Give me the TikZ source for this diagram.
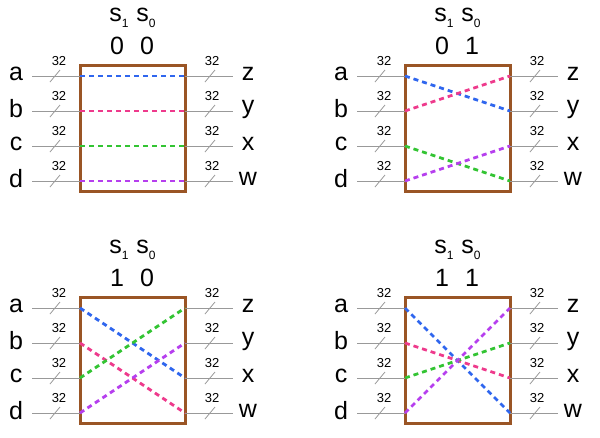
\documentclass[tikz,border=0pt]{standalone}
\usepackage{fontspec}
\setmainfont{Liberation Sans}
\definecolor{cbox}{HTML}{9A5525}
\definecolor{cA}{HTML}{2F66EE}
\definecolor{cB}{HTML}{EE3A8C}
\definecolor{cC}{HTML}{33C433}
\definecolor{cD}{HTML}{B63FEE}
\tikzset{
 wire/.style={draw=gray!80, line width=0.8pt},
 path1/.style={dashed, dash pattern=on 5pt off 4pt, line width=2.8pt},
 lbl/.style={font=\fontsize{25}{25}\selectfont, inner sep=0pt},
 wl/.style={font=\fontsize{13}{13}\selectfont, inner sep=0pt},
 mbox/.style={draw=cbox, line width=3pt, minimum width=105pt, minimum height=126pt, inner sep=0pt},
}
\newcommand{\mypanel}[8]{%
\begin{scope}[shift={(#1,#2)}]
 \node[mbox] (#3box) at (132.5,128) {};
 \node[lbl] at (119,18) {s\raisebox{-6pt}{\fontsize{12}{12}\selectfont 1}};
 \node[lbl] at (146,18) {s\raisebox{-6pt}{\fontsize{12}{12}\selectfont 0}};
 \node[lbl] at (117,46) {#4};
 \node[lbl] at (147,46) {#5};
 \foreach \n/\o/\y in {a/z/76,b/y/111,c/x/146,d/w/181}{
  \coordinate (#3i\n) at (80,\y);
  \coordinate (#3o\o) at (185,\y);
  \node[lbl] (#3l\n) at (16,\y-2) {\n};
  \node[lbl] (#3l\o) at (248,\y-2) {\o};
  \draw[wire] (32,\y) -- (#3i\n);
  \draw[wire] (#3o\o) -- (233,\y);
  \draw[wire] (50,\y+6) -- (60,\y-6);
  \draw[wire] (205,\y+6) -- (215,\y-6);
  \node[wl] at (59,\y-15) {32};
  \node[wl] at (212,\y-15) {32};
 }
 \draw[path1, cA] (#3ia) -- (#3o#6);
 #7
 #8
\end{scope}}
\begin{document}
\begin{tikzpicture}[x=1pt,y=-1pt]
\useasboundingbox (0,0) rectangle (600,437);
\mypanel{0}{0}{p}{0}{0}{z}{\draw[path1,cB] (pib) -- (poy);}{\draw[path1,cC] (pic) -- (pox); \draw[path1,cD] (pid) -- (pow);}
\mypanel{325}{0}{q}{0}{1}{y}{\draw[path1,cB] (qib) -- (qoz);}{\draw[path1,cC] (qic) -- (qow); \draw[path1,cD] (qid) -- (qox);}
\mypanel{0}{232}{r}{1}{0}{x}{\draw[path1,cB] (rib) -- (row);}{\draw[path1,cC] (ric) -- (roz); \draw[path1,cD] (rid) -- (roy);}
\mypanel{325}{232}{s}{1}{1}{w}{\draw[path1,cB] (sib) -- (sox);}{\draw[path1,cC] (sic) -- (soy); \draw[path1,cD] (sid) -- (soz);}
\end{tikzpicture}
\end{document}
